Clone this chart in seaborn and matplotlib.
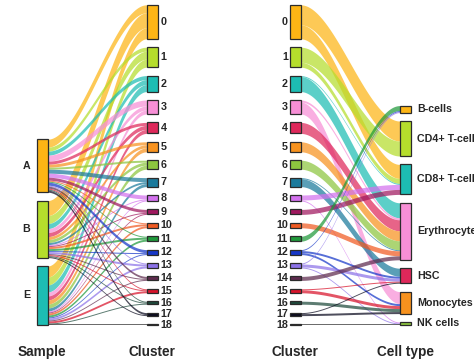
import numpy as np
import matplotlib.pyplot as plt
import seaborn as sns

# ---- data -------------------------------------------------------------
samples = ["A", "B", "E"]
clusters = [str(i) for i in range(19)]
cell_types = ["B-cells", "CD4+ T-cells", "CD8+ T-cells", "Erythrocytes",
              "HSC", "Monocytes", "NK cells"]

# cells of each cluster coming from each sample (cluster 0..18)
sample_a = [8, 4, 4, 6, 3, 3, 2, 4, 4, 3, 1, 1, 3, 1, 2, 1, 1, 2, 0]
sample_b = [15, 8, 5, 4, 4, 3, 3, 2, 1, 1, 2, 2, 1, 2, 1, 1, 1, 1, 0]
sample_e = [11, 8, 7, 4, 4, 4, 4, 3, 1, 1, 2, 2, 1, 2, 1, 2, 1, 0, 1]

# cluster -> cell type (B, CD4, CD8, Ery, HSC, Mono, NK)
to_celltype = [
    [0, 20, 14, 0, 0, 0, 0],
    [0, 15, 5, 0, 0, 0, 0],
    [0, 0, 1, 15, 0, 0, 0],
    [0, 0, 0, 2, 0, 12, 0],
    [0, 0, 0, 11, 0, 0, 0],
    [0, 0, 0, 10, 0, 0, 0],
    [0, 0, 0, 9, 0, 0, 0],
    [0, 0, 0, 1, 8, 0, 0],
    [0, 0, 5, 0, 0, 0, 1],
    [0, 0, 5, 0, 0, 0, 0],
    [0, 0, 0, 5, 0, 0, 0],
    [5, 0, 0, 0, 0, 0, 0],
    [1, 0, 0, 0, 2, 2, 0],
    [1, 0, 0, 0, 3, 0, 1],
    [0, 0, 0, 4, 0, 0, 0],
    [0, 0, 0, 0, 1, 3, 0],
    [0, 0, 0, 0, 0, 3, 0],
    [0, 0, 0, 0, 1, 2, 0],
    [0, 0, 0, 0, 0, 0, 1],
]

palette = ["#FDB515", "#B5DD2C", "#1DBDB3", "#F78FD6", "#DE285A", "#F7921E",
           "#8DC63F", "#1B7A9C", "#D371EE", "#A0185F", "#F05A22", "#1F993A",
           "#1637C8", "#8C72E8", "#5E2B4E", "#D9142B", "#1E4A3C", "#0A0A1E",
           "#333333"]

# ---- helpers ----------------------------------------------------------
GAP = 8.4
W = 0.1


def stack(sizes):
    sizes = np.asarray(sizes, float)
    total = sizes.sum() + GAP * (len(sizes) - 1)
    tops = total - (np.concatenate([[0], np.cumsum(sizes)[:-1]]) + GAP * np.arange(len(sizes)))
    return tops, tops - sizes


def draw_bars(ax, x, sizes, colors):
    tops, bots = stack(sizes)
    ax.bar(np.full(len(sizes), x), np.asarray(sizes, float), bottom=bots, width=W,
           color=colors, edgecolor="#2b2b2b", linewidth=0.9, zorder=3)
    return tops, bots


def draw_flows(ax, M, x0, x1, color_by_src, colors):
    M = np.asarray(M, float)
    src_tops, _ = stack(M.sum(axis=1))
    tgt_tops, _ = stack(M.sum(axis=0))
    src_off = np.zeros(M.shape[0])
    tgt_off = np.zeros(M.shape[1])
    pos = {}
    for i in range(M.shape[0]):
        for j in range(M.shape[1]):
            v = M[i, j]
            if v > 0:
                pos[(i, j, "s")] = src_tops[i] - src_off[i]
                src_off[i] += v
    for j in range(M.shape[1]):
        for i in range(M.shape[0]):
            v = M[i, j]
            if v > 0:
                pos[(i, j, "t")] = tgt_tops[j] - tgt_off[j]
                tgt_off[j] += v
    xs = np.linspace(x0 + W / 2, x1 - W / 2, 80)
    t = (xs - xs[0]) / (xs[-1] - xs[0])
    s = t * t * (3 - 2 * t)
    order = range(M.shape[0]) if color_by_src else range(M.shape[1])
    for k in order:
        for m in range(M.shape[1] if color_by_src else M.shape[0]):
            i, j = (k, m) if color_by_src else (m, k)
            v = M[i, j]
            if v <= 0:
                continue
            y0, y1 = pos[(i, j, "s")], pos[(i, j, "t")]
            top = y0 + (y1 - y0) * s
            ax.fill_between(xs, top, top - v, color=colors[k], alpha=0.72,
                            linewidth=0, zorder=1)


# ---- figure -----------------------------------------------------------
sns.set_theme(style="white")
plt.rcParams["font.family"] = ["Liberation Sans", "DejaVu Sans"]
plt.rcParams["font.weight"] = "bold"

fig = plt.figure(figsize=(4.74, 3.62), dpi=100)
ax = fig.add_axes([0, 0, 1, 1])
ax.set_xlim(-0.382, 3.927)
ax.set_ylim(-37, 325)
ax.axis("off")

x_sample, x_clu_l, x_clu_r, x_cell = 0.0, 1.0, 2.3, 3.3

sample_cluster = np.array([sample_a, sample_b, sample_e])
clu_sizes = sample_cluster.sum(axis=0)
cell_sizes = np.asarray(to_celltype).sum(axis=0)

draw_flows(ax, sample_cluster, x_sample, x_clu_l, False, palette)
draw_flows(ax, to_celltype, x_clu_r, x_cell, True, palette)

s_tops, s_bots = draw_bars(ax, x_sample, sample_cluster.sum(axis=1), palette[:3])
cl_tops, cl_bots = draw_bars(ax, x_clu_l, clu_sizes, palette)
cr_tops, cr_bots = draw_bars(ax, x_clu_r, clu_sizes, palette)
c_tops, c_bots = draw_bars(ax, x_cell, cell_sizes, palette[:7])

fs = 7.7
for lab, t, b in zip(samples, s_tops, s_bots):
    ax.text(x_sample - 0.14, (t + b) / 2, lab, ha="center", va="center", fontsize=fs)
for lab, t, b in zip(clusters, cl_tops, cl_bots):
    ax.text(x_clu_l + 0.08, (t + b) / 2, lab, ha="left", va="center", fontsize=fs)
for lab, t, b in zip(clusters, cr_tops, cr_bots):
    ax.text(x_clu_r - 0.065, (t + b) / 2, lab, ha="right", va="center", fontsize=fs)
for lab, t, b in zip(cell_types, c_tops, c_bots):
    ax.text(x_cell + 0.11, (t + b) / 2, lab, ha="left", va="center", fontsize=fs)

for x, lab in [(x_sample, "Sample"), (x_clu_l, "Cluster"),
               (x_clu_r, "Cluster"), (x_cell, "Cell type")]:
    ax.text(x, -27, lab, ha="center", va="center", fontsize=9.8)

fig.savefig("out.png", dpi=100)
